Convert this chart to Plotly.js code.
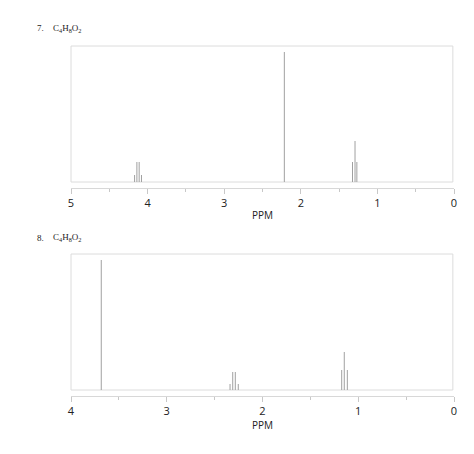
<!DOCTYPE html>
<html>
<head>
<meta charset="utf-8">
<script src="https://cdn.plot.ly/plotly-3.0.1.min.js"></script>
<style>html,body{margin:0;padding:0;background:#fff;}#chart{width:474px;height:454px;}</style>
</head>
<body>
<div id="chart"></div>
<script>
// Spectrum 7 (C4H8O2)
const ppm7 = [4.17, 4.14, 4.11, 4.08, 2.215, 1.325, 1.292, 1.268];
const int7 = [7, 20, 20, 7, 130, 20, 41, 20];
// Spectrum 8 (C4H8O2)
const ppm8 = [3.684, 2.339, 2.311, 2.284, 2.253, 1.173, 1.146, 1.114];
const int8 = [130, 6, 18, 18, 6, 20, 38, 20];
const ticks7 = [5, 4, 3, 2, 1, 0];
const ticks8 = [4, 3, 2, 1, 0];
const titles = ["7.", "8."];
const formula = "C<sub>4</sub>H<sub>8</sub>O<sub>2</sub>";
const axisTitle = "PPM";

function sticks(p, h) {
  const x = [], y = [];
  p.forEach((v, i) => { x.push(v, v, null); y.push(0, h[i], null); });
  return {x, y};
}
const s7 = sticks(ppm7, int7), s8 = sticks(ppm8, int8);
const lineStyle = {color: '#a0a0a0', width: 1};
const traces = [
  {x: s7.x, y: s7.y, xaxis: 'x', yaxis: 'y', mode: 'lines', line: lineStyle, hoverinfo: 'skip', showlegend: false},
  {x: s8.x, y: s8.y, xaxis: 'x2', yaxis: 'y2', mode: 'lines', line: lineStyle, hoverinfo: 'skip', showlegend: false}
];
const H = 454;
const d1 = [1 - 188 / H, 1 - 46 / H];
const d2 = [1 - 396 / H, 1 - 254 / H];
const tickFont = {family: 'Open Sans, DejaVu Sans, sans-serif', size: 11, color: '#222'};
function xax(range, ticks, anchor) {
  return {
    range: range, domain: [71 / 474, 454 / 474], anchor: anchor,
    tickmode: 'array', tickvals: ticks, ticktext: ticks.map(String),
    ticks: 'outside', ticklen: 5, tickcolor: '#c8c8c8', tickwidth: 1,
    minor: {dtick: 0.5, ticks: 'outside', ticklen: 3, tickcolor: '#c8c8c8', showgrid: false},
    showline: true, linecolor: '#d8d8d8', linewidth: 1,
    showgrid: false, zeroline: false, tickfont: tickFont,
    title: {text: axisTitle, font: {family: 'Open Sans, DejaVu Sans, sans-serif', size: 10, color: '#222'}, standoff: 2},
    fixedrange: true
  };
}
function yax(domain, anchor) {
  return {domain: domain, range: [-6, 136], anchor: anchor, showgrid: false, zeroline: false,
    showticklabels: false, showline: false, ticks: '', fixedrange: true};
}
const boxY0 = 6 / 142;
const boxLine = {color: '#dcdcdc', width: 1};
const tFont = {family: 'Liberation Serif, DejaVu Serif, serif', size: 9, color: '#222'};
const layout = {
  width: 474, height: 454,
  margin: {l: 0, r: 0, t: 0, b: 0},
  paper_bgcolor: '#fff', plot_bgcolor: 'rgba(0,0,0,0)',
  xaxis: xax([5, 0], ticks7, 'y'),
  yaxis: yax(d1, 'x'),
  xaxis2: xax([4, 0], ticks8, 'y2'),
  yaxis2: yax(d2, 'x2'),
  shapes: [
    {type: 'rect', xref: 'x domain', yref: 'y domain', x0: 0, x1: 0.997, y0: boxY0, y1: 1, line: boxLine, layer: 'below'},
    {type: 'rect', xref: 'x2 domain', yref: 'y2 domain', x0: 0, x1: 0.997, y0: boxY0, y1: 1, line: boxLine, layer: 'below'}
  ],
  annotations: [
    {text: titles[0], xref: 'paper', yref: 'paper', x: 35 / 474, y: 1 - 28 / H, xanchor: 'left', yanchor: 'middle', showarrow: false, font: tFont},
    {text: formula, xref: 'paper', yref: 'paper', x: 51 / 474, y: 1 - 28 / H, xanchor: 'left', yanchor: 'middle', showarrow: false, font: tFont},
    {text: titles[1], xref: 'paper', yref: 'paper', x: 35 / 474, y: 1 - 238 / H, xanchor: 'left', yanchor: 'middle', showarrow: false, font: tFont},
    {text: formula, xref: 'paper', yref: 'paper', x: 51 / 474, y: 1 - 238 / H, xanchor: 'left', yanchor: 'middle', showarrow: false, font: tFont}
  ]
};
Plotly.newPlot('chart', traces, layout, {staticPlot: true, displayModeBar: false});
</script>
</body>
</html>
